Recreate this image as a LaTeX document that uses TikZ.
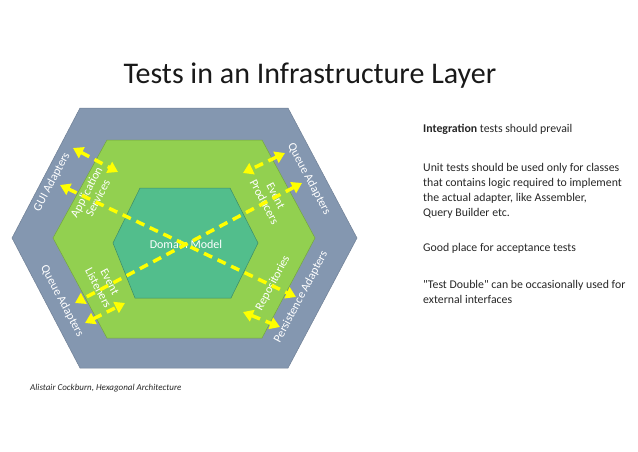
\documentclass[tikz,border=0pt]{standalone}
\usepackage{fontspec}
\setmainfont{Carlito}
\usetikzlibrary{arrows.meta}
\definecolor{adaptergray}{HTML}{8497B0}
\definecolor{appgreen}{HTML}{92D050}
\definecolor{domainteal}{HTML}{52BE8C}
\definecolor{flowyellow}{HTML}{FFFF00}
\begin{document}
\begin{tikzpicture}[x=1pt, y=-1pt,
    lbl/.style={text=white, font=\fontsize{12}{13}\selectfont, align=center, inner sep=0pt},
    txt/.style={anchor=west, align=left, inner sep=0pt, text=black!85, font=\fontsize{11.8}{15}\selectfont},
    flow/.style={draw=flowyellow, line width=3.5pt, dash pattern=on 9pt off 6pt,
        {Triangle[length=10pt,width=12pt]}-{Triangle[length=10pt,width=12pt]}}]
    \useasboundingbox (0,0) rectangle (638,451);

    % title
    \node[font=\fontsize{30}{34}\selectfont, text=black!90] (title) at (310, 76) {Tests in an Infrastructure Layer};

    % hexagons
    \filldraw[fill=adaptergray, draw=adaptergray!85!black, line width=0.5pt]
        (80,108) -- (288,108) -- (357,238) -- (288,368) -- (80,368) -- (12,238) -- cycle;
    \filldraw[fill=appgreen, draw=appgreen!80!black, line width=0.5pt]
        (107,140) -- (262,140) -- (315,238) -- (262,338) -- (107,338) -- (53,238) -- cycle;
    \filldraw[fill=domainteal, draw=domainteal!75!black, line width=0.5pt]
        (140,188) -- (230,188) -- (258,243) -- (231,298) -- (135,298) -- (113,243) -- cycle;

    % layer labels
    \node[lbl] (domain) at (186, 244) {Domain Model};
    \node[lbl, rotate=62] (gui) at (52, 182) {GUI Adapters};
    \node[lbl, rotate=62] (appsrv) at (92, 195) {Application\\Services};
    \node[lbl, rotate=-62] (queuetop) at (309, 179) {Queue Adapters};
    \node[lbl, rotate=-62] (producers) at (270, 199) {Event\\Producers};
    \node[lbl, rotate=-62] (queuebot) at (62, 301) {Queue Adapters};
    \node[lbl, rotate=-62] (listeners) at (104, 285) {Event\\Listeners};
    \node[lbl, rotate=62] (repos) at (273, 283) {Repositories};
    \node[lbl, rotate=62] (persist) at (301, 297) {Persistence Adapters};

    % arrow ends
    \coordinate (guiA) at (73,148);
    \coordinate (appA) at (118,172);
    \coordinate (guiB) at (60,185);
    \coordinate (persB) at (296,297);
    \coordinate (queueA) at (285,153);
    \coordinate (prodA) at (243,173);
    \coordinate (queueB) at (302,183);
    \coordinate (lisB) at (75,303);
    \coordinate (queueC) at (85,323);
    \coordinate (lisC) at (125,303);
    \coordinate (repoA) at (243,312);
    \coordinate (persA) at (280,327);

    % dashed flows
    \foreach \a/\b in {guiA/appA, guiB/persB, queueA/prodA, queueB/lisB, queueC/lisC, repoA/persA} {
        \draw[flow] (\a) -- (\b);
    }

    % notes
    \node[txt] (note1) at (423, 129) {\textbf{Integration} tests should prevail};
    \node[txt] (note2) at (423, 191) {Unit tests should be used only for classes\\that contains logic required to implement\\the actual adapter, like Assembler,\\Query Builder etc.};
    \node[txt] (note3) at (423, 248) {Good place for acceptance tests};
    \node[txt] (note4) at (423, 291.5) {\textquotedbl Test Double\textquotedbl{} can be occasionally used for\\external interfaces};

    % source
    \node[anchor=west, inner sep=0pt, text=black!85, font=\fontsize{9}{11}\selectfont\itshape] (source) at (30, 388) {Alistair Cockburn, Hexagonal Architecture};
\end{tikzpicture}
\end{document}
